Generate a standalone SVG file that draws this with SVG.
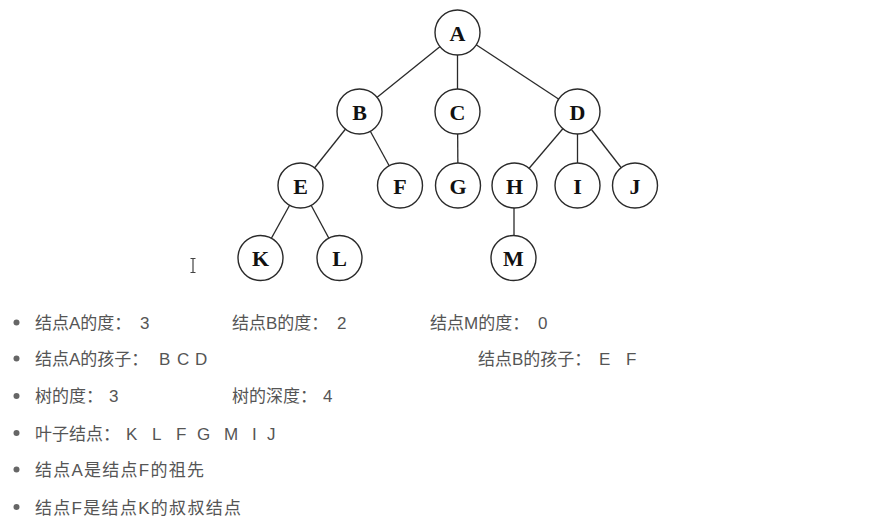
<svg xmlns="http://www.w3.org/2000/svg" width="881" height="530" viewBox="0 0 881 530">
<style>
.edge{stroke:#2a2a2a;stroke-width:1.3;fill:none}
.node circle{fill:#fff;stroke:#2a2a2a;stroke-width:1.4}
.node text{font-family:"Liberation Serif","Times New Roman",serif;font-weight:bold;font-size:22px;fill:#111;text-anchor:middle}
.txt{font-family:"Liberation Sans","Noto Sans CJK SC",sans-serif;font-size:17px;fill:#555}
.bullet{fill:#666}
</style>
<rect width="881" height="530" fill="#fff"/>
<g id="connectors">
<line class="edge" x1="457.5" y1="32.5" x2="359.5" y2="111.5"/>
<line class="edge" x1="457.5" y1="32.5" x2="457.5" y2="111.5"/>
<line class="edge" x1="457.5" y1="32.5" x2="577.5" y2="111.5"/>
<line class="edge" x1="359.5" y1="111.5" x2="300.5" y2="185.5"/>
<line class="edge" x1="359.5" y1="111.5" x2="400" y2="185.5"/>
<line class="edge" x1="457.5" y1="111.5" x2="458" y2="185.5"/>
<line class="edge" x1="577.5" y1="111.5" x2="514.5" y2="185.5"/>
<line class="edge" x1="577.5" y1="111.5" x2="577.5" y2="185.5"/>
<line class="edge" x1="577.5" y1="111.5" x2="635" y2="185.5"/>
<line class="edge" x1="300.5" y1="185.5" x2="260.5" y2="258"/>
<line class="edge" x1="300.5" y1="185.5" x2="339.5" y2="258"/>
<line class="edge" x1="514" y1="185.5" x2="514" y2="258"/>
</g>
<g id="node-A" class="node"><circle cx="457.5" cy="32.5" r="22.5"/><text x="457.5" y="40.5">A</text></g>
<g id="node-B" class="node"><circle cx="359.5" cy="111.5" r="22.5"/><text x="359.5" y="119.5">B</text></g>
<g id="node-C" class="node"><circle cx="457.5" cy="111.5" r="22.5"/><text x="457.5" y="119.5">C</text></g>
<g id="node-D" class="node"><circle cx="577.5" cy="111.5" r="22.5"/><text x="577.5" y="119.5">D</text></g>
<g id="node-E" class="node"><circle cx="300.5" cy="185.5" r="22.5"/><text x="300.5" y="193.5">E</text></g>
<g id="node-F" class="node"><circle cx="400" cy="185.5" r="22.5"/><text x="400" y="193.5">F</text></g>
<g id="node-G" class="node"><circle cx="458" cy="185.5" r="22.5"/><text x="458" y="193.5">G</text></g>
<g id="node-H" class="node"><circle cx="514.5" cy="185.5" r="22.5"/><text x="514.5" y="193.5">H</text></g>
<g id="node-I" class="node"><circle cx="577.5" cy="185.5" r="22.5"/><text x="577.5" y="193.5">I</text></g>
<g id="node-J" class="node"><circle cx="635" cy="185.5" r="22.5"/><text x="635" y="193.5">J</text></g>
<g id="node-K" class="node"><circle cx="260.5" cy="258" r="22.5"/><text x="260.5" y="266">K</text></g>
<g id="node-L" class="node"><circle cx="339.5" cy="258" r="22.5"/><text x="339.5" y="266">L</text></g>
<g id="node-M" class="node"><circle cx="513.5" cy="258" r="22.5"/><text x="513.5" y="266">M</text></g>
<g id="cursor" stroke="#444" stroke-width="1.2" fill="none">
<path d="M190.5 258.5h5M190.5 272.5h5M193 258.5v14"/>
</g>
<g id="notes">
<circle class="bullet" cx="16.5" cy="322.5" r="3"/>
<circle class="bullet" cx="16.5" cy="358.5" r="3"/>
<circle class="bullet" cx="16.5" cy="396" r="3"/>
<circle class="bullet" cx="16.5" cy="433" r="3"/>
<circle class="bullet" cx="16.5" cy="469.5" r="3"/>
<circle class="bullet" cx="16.5" cy="507" r="3"/>
<text class="txt" y="328.5"><tspan x="35">结点A的度：</tspan><tspan x="140">3</tspan></text>
<text class="txt" y="328.5"><tspan x="232">结点B的度：</tspan><tspan x="337">2</tspan></text>
<text class="txt" y="328.5"><tspan x="430">结点M的度：</tspan><tspan x="538">0</tspan></text>
<text class="txt" y="364.5"><tspan x="35">结点A的孩子：</tspan><tspan x="159">B</tspan><tspan x="177">C</tspan><tspan x="195">D</tspan></text>
<text class="txt" y="364.5"><tspan x="478">结点B的孩子：</tspan><tspan x="599">E</tspan><tspan x="626">F</tspan></text>
<text class="txt" y="402"><tspan x="35">树的度：</tspan><tspan x="109">3</tspan></text>
<text class="txt" y="402"><tspan x="232">树的深度：</tspan><tspan x="323">4</tspan></text>
<text class="txt" y="439.5"><tspan x="35">叶子结点：</tspan><tspan x="126">K</tspan><tspan x="152">L</tspan><tspan x="176">F</tspan><tspan x="197">G</tspan><tspan x="224">M</tspan><tspan x="252">I</tspan><tspan x="267">J</tspan></text>
<text class="txt" y="475.5" x="35" textLength="169" lengthAdjust="spacing">结点A是结点F的祖先</text>
<text class="txt" y="513.5" x="35" textLength="206" lengthAdjust="spacing">结点F是结点K的叔叔结点</text>
</g>
</svg>
